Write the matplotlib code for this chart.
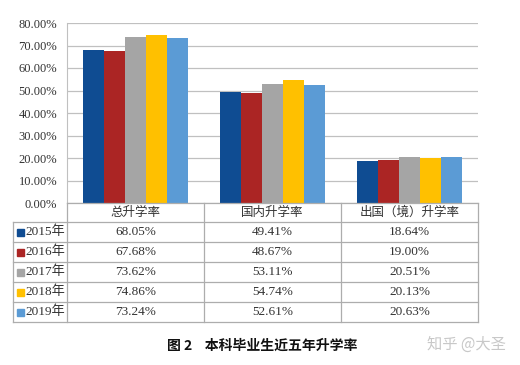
"""
Bar chart with data table: undergraduate further-study rates, 2015-2019.
"""

import numpy as np
import matplotlib
matplotlib.use("Agg")
import matplotlib.pyplot as plt

categories = ["总升学率", "国内升学率", "出国（境）升学率"]
years = ["2015年", "2016年", "2017年", "2018年", "2019年"]
rate_2015 = [68.05, 49.41, 18.64]
rate_2016 = [67.68, 48.67, 19.00]
rate_2017 = [73.62, 53.11, 20.51]
rate_2018 = [74.86, 54.74, 20.13]
rate_2019 = [73.24, 52.61, 20.63]
yticks = [0, 10, 20, 30, 40, 50, 60, 70, 80]
caption = "图 2    本科毕业生近五年升学率"
watermark = "知乎 @大圣"

series = [rate_2015, rate_2016, rate_2017, rate_2018, rate_2019]
colors = ["#0F4C92", "#AB2524", "#A5A5A5", "#FFC000", "#5B9BD5"]
fonts = ["Liberation Serif", "Noto Sans CJK SC", "DejaVu Sans"]
grid_col = "#C0C0C0"
text_col = "#333333"

W, H = 520, 365
fig = plt.figure(figsize=(W / 100, H / 100), dpi=100)

# plot area in pixels
x0, x1, ytop, ybot = 67, 478, 23, 203
ax = fig.add_axes([x0 / W, 1 - ybot / H, (x1 - x0) / W, (ybot - ytop) / H])

x = np.arange(len(categories))
bar_w = 0.153
for i, vals in enumerate(series):
    ax.bar(x + (i - 2) * bar_w, vals, width=bar_w, color=colors[i], zorder=3)

ax.set_xlim(-0.5, len(categories) - 0.5)
ax.set_ylim(0, 80)
ax.set_yticks(yticks)
ax.set_yticklabels([f"{v:.2f}%" for v in yticks], family=fonts,
                   fontsize=9, color=text_col)
ax.set_xticks([])
ax.tick_params(axis="y", length=0, pad=7)
ax.grid(axis="y", color=grid_col, linewidth=0.9, zorder=0)
for s in ["top", "right", "bottom"]:
    ax.spines[s].set_visible(False)
ax.spines["left"].set_color(grid_col)

# data table drawn in pixel coordinates over the whole figure
tb = fig.add_axes([0, 0, 1, 1])
tb.set_xlim(0, W)
tb.set_ylim(H, 0)
tb.axis("off")

lc = "#ADADAD"
lw = 0.9
tleft, row_h = 13, 20
col_edges = [x0 + k * (x1 - x0) / len(categories) for k in range(len(categories) + 1)]
row_edges = [ybot + k * row_h - 1 for k in range(len(years) + 2)]
row_edges[0] = ybot

tb.plot([x0, x1], [ybot, ybot], color=lc, lw=lw)
for y in row_edges[1:]:
    tb.plot([tleft, x1], [y, y], color=lc, lw=lw)
tb.plot([tleft, tleft], [row_edges[1], row_edges[-1]], color=lc, lw=lw)
for cx in col_edges:
    tb.plot([cx, cx], [ybot, row_edges[-1]], color=lc, lw=lw)

for j, cat in enumerate(categories):
    cx = (col_edges[j] + col_edges[j + 1]) / 2
    tb.text(cx, (row_edges[0] + row_edges[1]) / 2, cat, ha="center",
            va="center", fontsize=9, color=text_col, family=fonts)

for i, yr in enumerate(years):
    cy = (row_edges[i + 1] + row_edges[i + 2]) / 2
    tb.add_patch(plt.Rectangle((17, cy - 3.5), 7, 7, color=colors[i]))
    tb.text(25, cy, yr, ha="left", va="center", fontsize=9.5,
            color=text_col, family=fonts)
    for j in range(len(categories)):
        cx = (col_edges[j] + col_edges[j + 1]) / 2
        tb.text(cx, cy, f"{series[i][j]:.2f}%", ha="center", va="center",
                fontsize=9.5, color=text_col, family=fonts)

fig.text(262 / W, 1 - 346 / H, caption, ha="center", va="center",
         fontsize=10, fontweight="bold", color="#111111",
         family=["Noto Sans CJK SC", "DejaVu Sans"])
fig.text(466 / W, 1 - 344 / H, watermark, ha="center", va="center",
         fontsize=11, color="#C8C8C8",
         family=["Noto Sans CJK SC", "DejaVu Sans"])

fig.savefig("out.png", dpi=100)
